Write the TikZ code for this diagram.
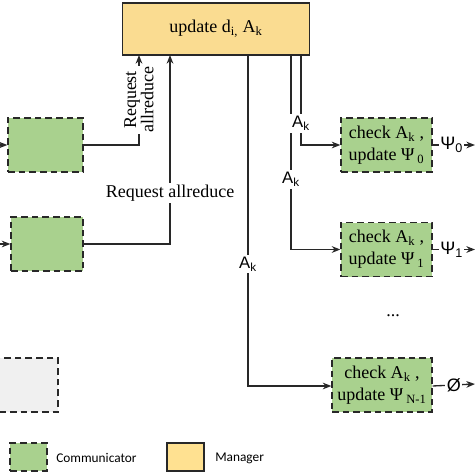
\documentclass[tikz,border=0pt]{standalone}
\usepackage{fontspec}
\setmainfont{Liberation Serif}
\newfontfamily\lsans{Liberation Sans}
\newfontfamily\carl{Carlito}
\usetikzlibrary{arrows.meta}
\definecolor{cgreen}{RGB}{169,209,142}
\definecolor{cyellow}{RGB}{250,220,145}
\definecolor{lyellow}{RGB}{255,225,145}
\definecolor{cgray}{RGB}{240,240,240}
\definecolor{cline}{RGB}{40,40,40}
\tikzset{
  comm/.style={draw=cline, fill=cgreen, dash pattern=on 5pt off 3pt, line width=0.9pt, align=center, inner sep=0pt,
    font=\fontsize{13.5}{16.5}\selectfont},
  mgrbox/.style={draw=cline, fill=cyellow, line width=0.9pt, inner sep=0pt, font=\fontsize{13.5}{16}\selectfont},
  conn/.style={draw=cline, line width=1pt},
  arr/.style={conn, -{Stealth[length=6.5pt,width=5pt]}},
  lab/.style={fill=white, inner sep=1.5pt, font=\fontsize{13.5}{15}\selectfont},
  slab/.style={fill=white, inner sep=1.5pt, font=\lsans\fontsize{12.5}{14}\selectfont},
  olab/.style={fill=white, inner sep=1pt, font=\lsans\fontsize{13.5}{14}\selectfont},
  legtxt/.style={anchor=west, inner sep=0pt, font=\carl\fontsize{10}{12}\selectfont}
}
\begin{document}
\begin{tikzpicture}[x=0.75pt,y=-0.75pt]
\useasboundingbox (0,0) rectangle (474,474);
% manager
\node[mgrbox, minimum width=187*0.75pt, minimum height=52*0.75pt] (mgr) at (216,29) {update d\textsubscript{i,} A\textsubscript{k}};
% left communicators
\node[comm, minimum width=75*0.75pt, minimum height=54*0.75pt] (c1) at (45.5,145) {};
\node[comm, minimum width=72*0.75pt, minimum height=54*0.75pt] (c2) at (47,244) {};
\node[comm, fill=cgray, minimum width=80*0.75pt, minimum height=54*0.75pt] (g1) at (18,385) {};
% right communicators
\node[comm, minimum width=91*0.75pt, minimum height=54*0.75pt] (p0) at (386.5,145) {check A\textsubscript{k} ,\\update Ψ\,\textsubscript{0}};
\node[comm, minimum width=91*0.75pt, minimum height=54*0.75pt] (p1) at (386.5,249.5) {check A\textsubscript{k} ,\\update Ψ\,\textsubscript{1}};
\node[comm, minimum width=100*0.75pt, minimum height=54*0.75pt] (pN) at (382,385) {check A\textsubscript{k} ,\\update Ψ\,\textsubscript{N-1}};
\node[font=\fontsize{13.5}{16}\selectfont] (dots) at (393,316) {...};
% coordinates
\coordinate (m1) at (139,55);
\coordinate (m2) at (170,55);
\coordinate (t1) at (248,55);
\coordinate (t2) at (291,55);
\coordinate (t3) at (301,55);
\coordinate (i1) at (-5,145);
\coordinate (i2) at (-5,244);
\coordinate (o0) at (475,145);
\coordinate (o1) at (475,249.5);
\coordinate (oN) at (475,384);
% input arrows
\draw[arr] (i1) -- (c1.west);
\draw[arr] (i2) -- (c2.west);
% requests
\draw[arr] (c1.east) -| node[lab, pos=0.75, rotate=90, align=center, inner sep=0.5pt, font=\fontsize{13.5}{13}\selectfont] {Request\\allreduce} (m1);
\draw[arr] (c2.east) -| node[lab, pos=0.635] {Request allreduce} (m2);
% broadcasts
\draw[arr] (t1) |- node[slab, pos=0.316] {A\textsubscript{k}} ([yshift=-0.75pt]pN.west);
\draw[arr] (t2) |- node[slab, pos=0.32] {A\textsubscript{k}} (p1.west);
\draw[arr] (t3) |- node[slab, pos=0.38] {A\textsubscript{k}} (p0.west);
% outputs
\draw[arr] (p0.east) -- node[olab, pos=0.45] {Ψ\textsubscript{0}} (o0);
\draw[arr] (p1.east) -- node[olab, pos=0.45] {Ψ\textsubscript{1}} (o1);
\draw[arr] ([yshift=-0.75pt]pN.east) -- node[olab, pos=0.5] {Ø} (oN);
% legend
\node[comm, minimum width=37*0.75pt, minimum height=28*0.75pt] (lg) at (28.5,457) {};
\node[legtxt] (lgt) at (56,458) {Communicator};
\node[draw=cline, fill=lyellow, line width=0.9pt, minimum width=37*0.75pt, minimum height=28*0.75pt, inner sep=0pt] (lm) at (185.5,457) {};
\node[legtxt] (lmt) at (215,458) {Manager};
\end{tikzpicture}
\end{document}
